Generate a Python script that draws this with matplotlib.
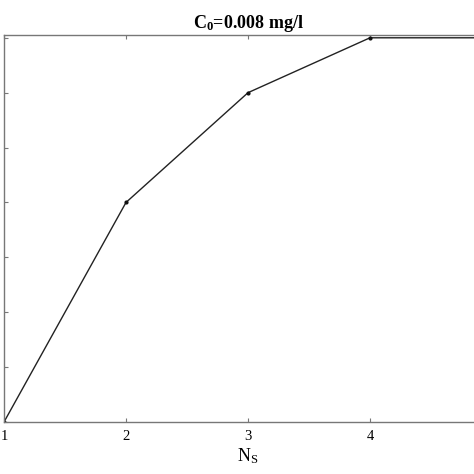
import matplotlib
matplotlib.use("Agg")
import matplotlib.pyplot as plt

ns = [1, 2, 3, 4, 5]
values = [0, 4, 6, 7, 7]
xticks = [1, 2, 3, 4]
yticks = [0, 1, 2, 3, 4, 5, 6, 7]

plt.rcParams['font.family'] = ['Liberation Serif', 'DejaVu Serif']
plt.rcParams['mathtext.fontset'] = 'custom'
plt.rcParams['mathtext.rm'] = 'Liberation Serif'
plt.rcParams['mathtext.it'] = 'Liberation Serif'
plt.rcParams['mathtext.bf'] = 'Liberation Serif:bold'

fig = plt.figure(figsize=(4.74, 4.74), dpi=100)
W = H = 474
left, right, top, bottom = 4, 492, 34.5, 422
ax = fig.add_axes([left / W, 1 - bottom / H, (right - left) / W, (bottom - top) / H])

ax.plot(ns, values, color='#222222', lw=1.0, marker='o', ms=2, mfc='#111111', mec='#111111')
ax.set_xlim(1, 5)
ax.set_ylim(0, 7.06)
ax.set_xticks(xticks)
ax.set_yticks(yticks)
ax.set_yticklabels([])
ax.tick_params(direction='in', length=3, color='#777777', top=True, right=False,
               labelsize=10.5, pad=6)
for s in ax.spines.values():
    s.set_color('#777777')
    s.set_linewidth(1.0)
ax.spines['right'].set_visible(False)

ax.set_title(r'C$_\mathbf{0}$=0.008 mg/l', fontsize=13, fontweight='bold', pad=5)
ax.set_xlabel(r'N$_\mathrm{S}$', fontsize=13, labelpad=2)

fig.savefig('out.png', dpi=100)
